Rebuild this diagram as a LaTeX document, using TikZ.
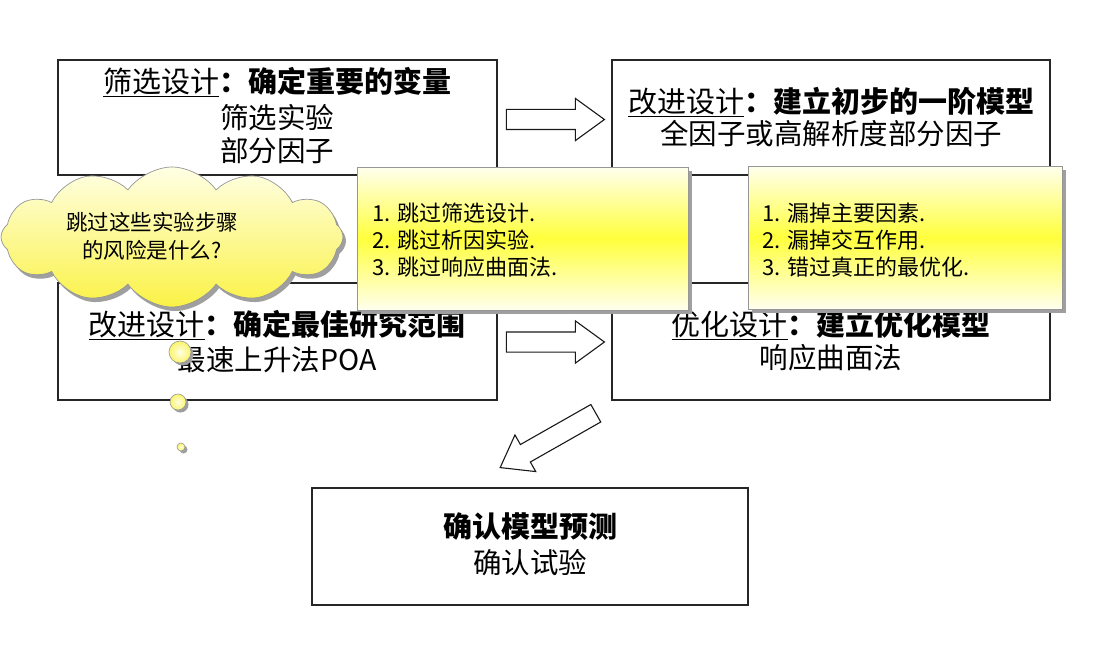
\documentclass[tikz,border=0pt]{standalone}
\usepackage{fontspec}
\setmainfont{Noto Sans CJK SC}
\usetikzlibrary{shapes.symbols,shapes.arrows,shadows,calc}
\definecolor{notelight}{RGB}{255,255,238}
\definecolor{noteyel}{RGB}{255,255,60}
\definecolor{cloudtop}{RGB}{255,255,228}
\definecolor{cloudbot}{RGB}{250,242,70}
\definecolor{edgegray}{RGB}{150,150,150}
\begin{document}
\begin{tikzpicture}[x=1pt,y=-1pt,
  stagebox/.style={draw=black!85, line width=1.3pt, fill=white, inner sep=0pt, minimum height=115pt},
  ttl/.style={font=\fontsize{29}{32}\selectfont, inner sep=0pt},
  sub/.style={font=\fontsize{28.5}{32}\selectfont, inner sep=0pt},
  blockarrow/.style={single arrow, draw=black!90, line width=1.1pt, fill=white,
     inner xsep=0pt, inner ysep=9.5pt, single arrow head extend=11pt, single arrow tip angle=72},
  note/.style={draw=edgegray, line width=0.6pt, shading=axis, top color=notelight, bottom color=notelight,
     middle color=noteyel, minimum height=143pt, inner sep=0pt,
     drop shadow={shadow xshift=4pt, shadow yshift=-4pt, fill=gray!75, opacity=1}},
  notetext/.style={font=\fontsize{22}{27}\selectfont, align=left, anchor=west, inner sep=0pt},
  bubble/.style={circle, draw=edgegray, line width=0.6pt, shading=radial, inner color=cloudtop, outer color=cloudbot!80,
     inner sep=0pt, drop shadow={shadow xshift=2.5pt, shadow yshift=-2.5pt, fill=gray!75, opacity=1}}
]
\useasboundingbox (0,0) rectangle (1100,650);
\fill[white] (0,0) rectangle (1100,650);

% stage boxes
\node[stagebox, minimum width=439pt] (b1) at (277.5,117.5) {};
\node[stagebox, minimum width=438pt] (b2) at (831,117.5) {};
\node[stagebox, minimum width=439pt, minimum height=117pt] (b3) at (277.5,341.5) {};
\node[stagebox, minimum width=438pt, minimum height=117pt] (b4) at (831,341.5) {};
\node[stagebox, minimum width=436pt, minimum height=117pt] (b5) at (530,546.5) {};

% box texts
\node[ttl] (t1a) at (277,82) {\underline{筛选设计}\textbf{：确定重要的变量}};
\node[sub] (t1b) at (277,118) {筛选实验};
\node[sub] (t1c) at (277,151) {部分因子};
\node[ttl] (t2a) at (831,102) {\underline{改进设计}\textbf{：建立初步的一阶模型}};
\node[sub] (t2b) at (831,134) {全因子或高解析度部分因子};
\node[ttl] (t3a) at (277,325) {\underline{改进设计}\textbf{：确定最佳研究范围}};
\node[sub] (t3b) at (277,360) {最速上升法POA};
\node[ttl] (t4a) at (831,325) {\underline{优化设计}\textbf{：建立优化模型}};
\node[sub] (t4b) at (831,358) {响应曲面法};
\node[ttl] (t5a) at (530,527) {\textbf{确认模型预测}};
\node[sub] (t5b) at (530,563) {确认试验};

% block arrows
\node[blockarrow, minimum height=98pt] (a1) at ($(b1.east)!0.5!(b2.west)+(-6,2)$) {};
\node[blockarrow, minimum height=98pt] (a2) at ($(b3.east)!0.5!(b4.west)+(-6,0.5)$) {};
\node[blockarrow, minimum height=110pt, rotate=209.6] (a3) at (554,437) {};

% notes
\node[note, minimum width=331pt] (n1) at (522.5,238.5) {};
\node[notetext] (n1t) at (372,240) {1. 跳过筛选设计.\\2. 跳过析因实验.\\3. 跳过响应曲面法.};
\node[note, minimum width=314pt] (n2) at (905,237.5) {};
\node[notetext] (n2t) at (762,240) {1. 漏掉主要因素.\\2. 漏掉交互作用.\\3. 错过真正的最优化.};

% cloud
\node[cloud, cloud puffs=12, cloud puff arc=110, aspect=2.5, minimum width=342pt, minimum height=140pt,
      draw=edgegray, line width=0.7pt, shading=axis, top color=cloudtop, bottom color=cloudbot,
      drop shadow={shadow xshift=3pt, shadow yshift=-4pt, fill=gray!75, opacity=1}] (c) at (172,237) {};
\node[font=\fontsize{21.5}{28}\selectfont, align=center, inner sep=0pt] (ct) at (152,236) {跳过这些实验步骤\\的风险是什么?};

% thought bubbles
\node[bubble, minimum size=22pt] (p1) at (180,352) {};
\node[bubble, minimum size=16pt] (p2) at (178,402) {};
\node[bubble, minimum size=8pt] (p3) at (181,447) {};
\end{tikzpicture}
\end{document}
